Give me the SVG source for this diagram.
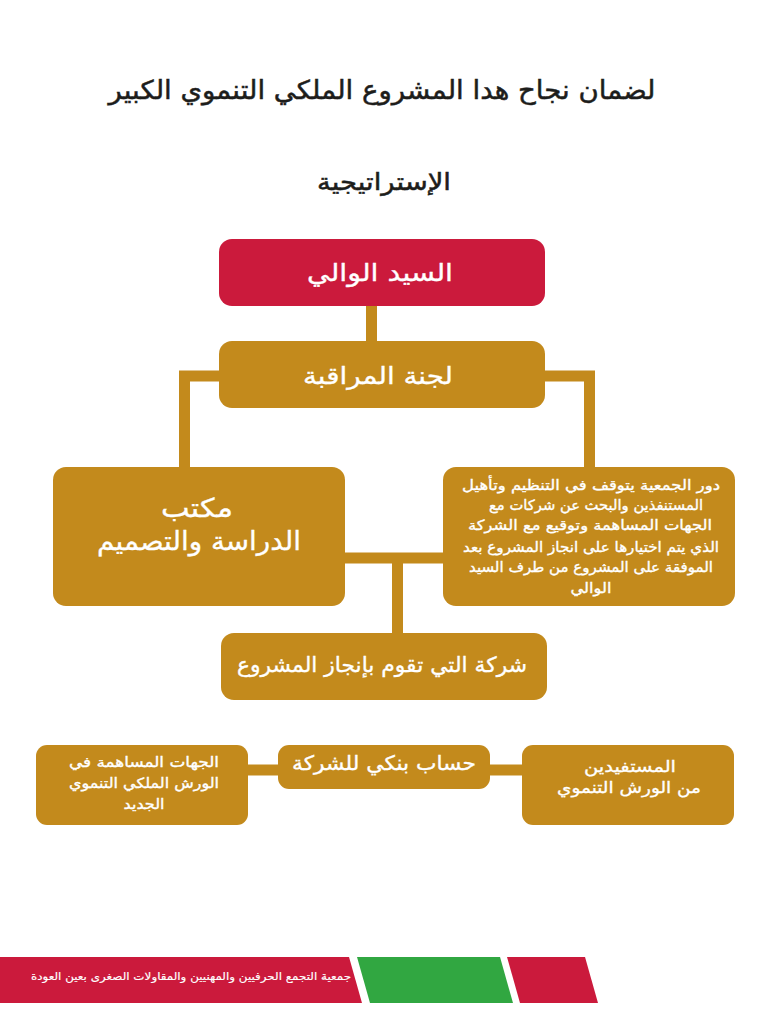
<svg xmlns="http://www.w3.org/2000/svg" width="768" height="1024" viewBox="0 0 768 1024">
<style>
text{font-family:"DejaVu Sans",sans-serif;text-anchor:middle;direction:rtl;fill:#fff;stroke:#fff;stroke-width:.35}
text.d{fill:#1d1d1b;stroke:#1d1d1b;stroke-width:.5}
.g{fill:#c38a1c}
.r{fill:#cb1a3c}
.c{fill:none;stroke:#c38a1c;stroke-width:11}
</style>
<rect width="768" height="1024" fill="#fff"/>
<g id="title"><text class="d" x="382" y="99" font-size="26" textLength="547" lengthAdjust="spacingAndGlyphs">لضمان نجاح هدا المشروع الملكي التنموي الكبير</text></g>
<g id="subtitle"><text class="d" x="384" y="190" font-size="24" textLength="134" lengthAdjust="spacingAndGlyphs">الإستراتيجية</text></g>
<g id="connectors">
<path class="c" d="M371.500 306V341"/>
<path class="c" d="M219 376H184.500V467"/>
<path class="c" d="M545 376H589.500V467"/>
<path class="c" d="M345 558H443"/>
<path class="c" d="M397.500 558V633"/>
<path class="c" d="M248 770H278"/>
<path class="c" d="M490 770H522"/>
</g>
<g id="node-wali"><rect class="r" x="219" y="239" width="326" height="67" rx="13"/><text x="380" y="281" font-size="24" textLength="146" lengthAdjust="spacingAndGlyphs">السيد الوالي</text></g>
<g id="node-committee"><rect class="g" x="219" y="341" width="326" height="67" rx="13"/><text x="378" y="384" font-size="24" textLength="150" lengthAdjust="spacingAndGlyphs">لجنة المراقبة</text></g>
<g id="node-office"><rect class="g" x="53" y="467" width="292" height="139" rx="13"/>
<text x="197" y="517" font-size="26" textLength="72" lengthAdjust="spacingAndGlyphs">مكتب</text>
<text x="199" y="550" font-size="26" textLength="204" lengthAdjust="spacingAndGlyphs">الدراسة والتصميم</text></g>
<g id="node-role"><rect class="g" x="443" y="467" width="292" height="139" rx="13"/>
<g font-size="14">
<text x="591" y="490" textLength="258" lengthAdjust="spacingAndGlyphs">دور الجمعية يتوقف في التنظيم وتأهيل</text>
<text x="596" y="510" textLength="214" lengthAdjust="spacingAndGlyphs">المستنفذين والبحث عن شركات مع</text>
<text x="590" y="530" textLength="244" lengthAdjust="spacingAndGlyphs">الجهات المساهمة وتوقيع مع الشركة</text>
<text x="591" y="552" textLength="256" lengthAdjust="spacingAndGlyphs">الذي يتم اختيارها على انجاز المشروع بعد</text>
<text x="591" y="572" textLength="244" lengthAdjust="spacingAndGlyphs">الموفقة على المشروع من طرف السيد</text>
<text x="591" y="593" textLength="41" lengthAdjust="spacingAndGlyphs">الوالي</text>
</g></g>
<g id="node-company"><rect class="g" x="221" y="633" width="326" height="67" rx="13"/><text x="382" y="672" font-size="21" textLength="290" lengthAdjust="spacingAndGlyphs">شركة التي تقوم بإنجاز المشروع</text></g>
<g id="node-contributors"><rect class="g" x="36" y="745" width="212" height="80" rx="11"/>
<g font-size="14">
<text x="144" y="767" textLength="150" lengthAdjust="spacingAndGlyphs">الجهات المساهمة في</text>
<text x="144" y="788" textLength="150" lengthAdjust="spacingAndGlyphs">الورش الملكي التنموي</text>
<text x="144" y="809" textLength="41" lengthAdjust="spacingAndGlyphs">الجديد</text>
</g></g>
<g id="node-bank"><rect class="g" x="278" y="745" width="212" height="44" rx="11"/><text x="384" y="770" font-size="20" textLength="184" lengthAdjust="spacingAndGlyphs">حساب بنكي للشركة</text></g>
<g id="node-beneficiaries"><rect class="g" x="522" y="745" width="212" height="80" rx="11"/>
<text x="630" y="772" font-size="16" textLength="92" lengthAdjust="spacingAndGlyphs">المستفيدين</text>
<text x="629" y="793" font-size="16" textLength="144" lengthAdjust="spacingAndGlyphs">من الورش التنموي</text></g>
<polygon class="r" points="0,957 349,957 362,1003 0,1003"/>
<polygon points="357,957 500,957 513,1003 370,1003" fill="#31a741"/>
<polygon class="r" points="507,957 585,957 598,1003 520,1003"/>
<text x="191" y="980" font-size="10.500" textLength="320" lengthAdjust="spacingAndGlyphs" style="stroke-width:.15">جمعية التجمع الحرفيين والمهنيين والمقاولات الصغرى بعين العودة</text>
</svg>
